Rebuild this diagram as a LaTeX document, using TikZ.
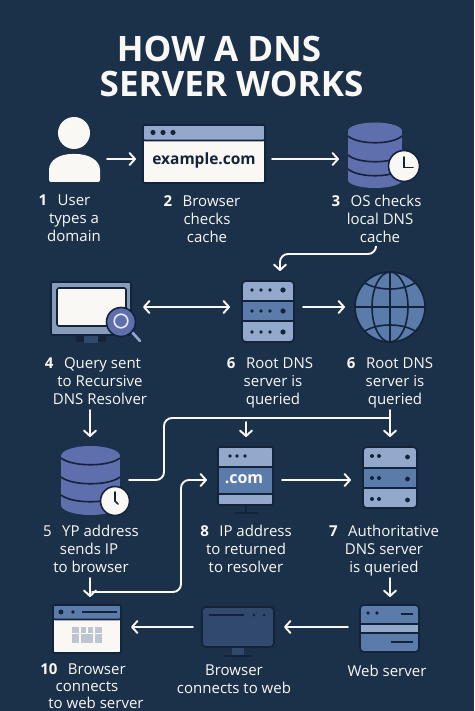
\documentclass[tikz,border=0pt]{standalone}
\usepackage{fontspec}
\setmainfont{Open Sans}
\usetikzlibrary{positioning, arrows.meta}
\definecolor{cfond}{HTML}{1B3149}
\definecolor{ctrait}{HTML}{12233A}
\definecolor{cblanc}{HTML}{FAF8F5}
\definecolor{cclair}{HTML}{93A9CB}
\definecolor{cmoyen}{HTML}{5B7BAA}
\definecolor{cbase}{HTML}{5F6FAD}
\definecolor{csombre}{HTML}{31496C}
\definecolor{cgrille}{HTML}{BCC5D0}
\tikzset{
  flow/.style={draw=cblanc, line width=1.9pt, line cap=round, rounded corners=8pt,
    -{Straight Barb[length=5.5pt, width=12pt, round]}},
  slot/.style={minimum height=8pt, inner sep=0pt, outer sep=0pt},
  lab/.style={text=cblanc, font=\fontsize{15}{18}\selectfont, align=center, inner sep=0pt, anchor=north},
  icon/.style={draw=ctrait, line width=1.6pt, rounded corners=2pt},
  band/.style={draw=ctrait, line width=1.6pt},
  clockhand/.style={draw=ctrait, line width=1.6pt, line cap=round},
}
\newcommand{\numb}[1]{\textbf{#1}\hspace{0.7em}}
\newcommand{\decal}[1]{\rule{#1}{0pt}}
\begin{document}
\begin{tikzpicture}[x=1pt, y=-1pt]
  \useasboundingbox (0,0) rectangle (474,711);
  \fill[cfond] (0,0) rectangle (474,711);

  % --- titre --------------------------------------------------------------
  \node[text=cblanc, font=\bfseries\fontsize{35}{35}\selectfont, align=center] (titre) at (231.5,66)
       {HOW A DNS\decal{25pt}\\SERVER WORKS};

  % --- reperes des icones, les fleches partent de leurs bords -------------
  \node[slot, minimum width=66pt] (user) at (74,159) {};
  \node[slot, minimum width=136pt] (browser) at (204,159) {};
  \node[slot, minimum width=72pt] (oscache) at (375,159) {};
  \node[slot, minimum width=104pt] (monitor) at (91,307) {};
  \node[slot, minimum width=73pt] (rootsrv) at (266.5,307) {};
  \node[slot, minimum width=90pt] (globe) at (390,307) {};
  \node[slot, minimum width=78pt] (ipdb) at (90,480) {};
  \node[slot, minimum width=75pt] (comsrv) at (244.5,480) {};
  \node[slot, minimum width=78pt] (authsrv) at (390,480) {};
  \node[slot, minimum width=88pt] (client) at (87,627) {};
  \node[slot, minimum width=91pt] (screen) at (238.5,627) {};
  \node[slot, minimum width=83pt] (websrv) at (389.5,627) {};

  % --- utilisateur ---------------------------------------------------------
  \fill[cblanc] (74,133) circle (16);
  \fill[cblanc, rounded corners=2pt] (49,182) -- (49,172)
    .. controls (49,160) and (60,154) .. (74,154)
    .. controls (88,154) and (100,160) .. (100,172) -- (100,182) -- cycle;

  % --- navigateur ----------------------------------------------------------
  \draw[icon, fill=cblanc] (143,125) rectangle (265,183);
  \draw[icon, fill=cclair] (143,125) rectangle (265,140.5);
  \foreach \px in {153,163,173} \fill[ctrait] (\px,132.5) circle (2.6);
  \node[text=ctrait, font=\fontsize{15.5}{18}\selectfont\bfseries] (domaine) at (204,160.5) {example.com};

  % --- base locale et horloge ---------------------------------------------
  \fill[cbase] (348,131) rectangle (402,180);
  \fill[cbase] (375,131) ellipse (27 and 8.5);
  \fill[cbase] (375,180) ellipse (27 and 8);
  \foreach \py in {136,155,169}
    \draw[band] (348,\py) .. controls (358,\py+9) and (392,\py+9) .. (402,\py);
  \draw[icon, fill=cblanc] (404,166) circle (15.5);
  \draw[clockhand] (404,157) -- (404,167.5) -- (413,167.5);

  % --- moniteur et loupe ---------------------------------------------------
  \fill[ctrait] (76,335) rectangle (106,342);
  \fill[csombre] (84,335) rectangle (98,343);
  \draw[icon, fill=cclair!92!black] (51,282) rectangle (131,335);
  \draw[icon, fill=cblanc] (57,288) rectangle (126,326);
  \draw[draw=cclair, line width=2.6pt, line cap=round] (131,331) -- (140,341);
  \draw[icon, fill=cbase] (121,322) circle (14.5);
  \draw[draw=cblanc!85!cclair, line width=1.6pt] (121,321) circle (6.8);

  % --- serveur racine -------------------------------------------------------
  \draw[icon, fill=cclair, rounded corners=4pt] (242,281) rectangle (294,342);
  \fill[cmoyen] (242.8,301) rectangle (293.2,321);
  \draw[band] (242,301) -- (294,301);
  \draw[band] (242,321) -- (294,321);
  \foreach \py in {290,311,332} {
    \foreach \px in {252,261,270} \fill[ctrait] (\px,\py) circle (1.9);
    \fill[ctrait] (283,\py) circle (2.6);
  }

  % --- globe ----------------------------------------------------------------
  \draw[band, fill=cmoyen] (390,307) circle (35);
  \draw[band] (390,307) ellipse (18 and 35);
  \draw[band] (390,272) -- (390,342);
  \draw[band] (355,307) -- (425,307);
  \draw[band] (365,283) .. controls (378,291) and (402,291) .. (415,283);
  \draw[band] (365,331) .. controls (378,323) and (402,323) .. (415,331);

  % --- base du resolveur ----------------------------------------------------
  \fill[cbase] (61,456) rectangle (120,505);
  \fill[cbase] (90.5,456) ellipse (29.5 and 10);
  \fill[cbase] (90.5,505) ellipse (29.5 and 10);
  \foreach \py in {458,477,495}
    \draw[band] (61,\py) .. controls (72,\py+9) and (109,\py+9) .. (120,\py);
  \draw[icon, fill=cblanc] (115,501) circle (14.5);
  \draw[clockhand] (115,492) -- (115,501) -- (118,504);

  % --- ecran .com ------------------------------------------------------------
  \draw[band] (246,505) -- (246,512);
  \draw[band] (235,513) -- (258,513);
  \draw[icon, fill=cclair] (218,447) rectangle (273,505);
  \fill[cmoyen] (219,467) rectangle (272,494);
  \draw[band] (218,467) -- (273,467);
  \draw[band] (218,494) -- (273,494);
  \foreach \px in {230,237,245} \fill[ctrait] (\px,456) circle (1.8);
  \node[text=cblanc, font=\bfseries\fontsize{16}{18}\selectfont] (ext) at (244,479.5) {.com};

  % --- serveur autoritaire ---------------------------------------------------
  \draw[icon, fill=cclair, rounded corners=4pt] (363,447) rectangle (417,508);
  \fill[cmoyen] (364,468) rectangle (416,488);
  \draw[band] (363,468) -- (417,468);
  \draw[band] (363,488) -- (417,488);
  \foreach \py in {456,478,499} {
    \foreach \px in {372,379} \fill[ctrait] (\px,\py) circle (2);
    \fill[ctrait] (407.5,\py+1) circle (2.4);
  }

  % --- fenetre du client -----------------------------------------------------
  \draw[icon, fill=cblanc] (53,605) rectangle (121,653);
  \draw[icon, fill=cmoyen] (53,605) rectangle (121,619.5);
  \fill[ctrait] (61,612) circle (2.5);
  \fill[ctrait] (73,612) circle (1.9);
  \draw[band] (82,612) -- (117,612);
  \fill[cgrille] (72,627) rectangle (102,643);
  \draw[cblanc, line width=1.4pt] (72,633.5) -- (102,633.5);
  \draw[cblanc, line width=1.4pt] (80,627) -- (80,643);
  \draw[cblanc, line width=1.4pt] (94,627) -- (94,643);
  \draw[cblanc, line width=1.4pt] (87,627) -- (87,633.5);

  % --- moniteur sombre --------------------------------------------------------
  \fill[csombre] (232,647) rectangle (244,655);
  \draw[band] (225,656) -- (251,656);
  \draw[icon, fill=csombre, rounded corners=4pt] (202,607) rectangle (274,647);
  \draw[draw=ctrait, line width=1.2pt] (209,615) -- (244,615);
  \foreach \px in {254,264} \fill[ctrait] (\px,615) circle (1.5);

  % --- serveur web -------------------------------------------------------------
  \draw[icon, fill=cmoyen, rounded corners=4pt] (360,605) rectangle (419,652);
  \fill[cclair] (361,625) rectangle (418,632);
  \draw[band] (360,624) -- (419,624);
  \draw[band] (360,633) -- (419,633);
  \foreach \px in {368,377} \fill[ctrait] (\px,613) circle (1.9);
  \draw[draw=ctrait, line width=2pt] (401,614) -- (413,614);
  \draw[draw=ctrait, line width=2pt] (391,642) -- (413,642);

  % --- textes ---------------------------------------------------------------
  \node[lab] (t1) at (74,195) {\numb{1}User\decal{19pt}\\types a\\domain};
  \node[lab] (t2) at (207,195) {\numb{2}Browser\decal{10pt}\\checks\\cache};
  \node[lab] (t3) at (380,195) {\numb{3}OS checks\decal{7pt}\\local DNS\\cache};
  \node[lab] (t4) at (100,357) {\numb{4}Query sent\decal{14pt}\\to Recursive\\DNS Resolver};
  \node[lab] (t5) at (273,357) {\numb{6}Root DNS\decal{6pt}\\server is\\queried};
  \node[lab] (t6) at (395,357) {\numb{6}Root DNS\decal{10pt}\\server is\\queried};
  \node[lab] (t7) at (91,525) {5\hspace{0.7em}ϒP address\\sends IP\decal{4pt}\\to browser};
  \node[lab] (t8) at (246,525) {\numb{8}IP address\\to returned\\to resolver};
  \node[lab] (t9) at (384,525) {\numb{7}Authoritative\\DNS server\\is queried};
  \node[lab, font=\fontsize{15}{17}\selectfont] (t10) at (87,663.5) {\numb{10}Browser\decal{8pt}\\connects\\\decal{18pt}to web server};
  \node[lab] (t11) at (234,665) {Browser\\connects to web};
  \node[lab] (t12) at (387,665) {Web server};

  % --- extremites libres des coudes ------------------------------------------
  \coordinate (c3) at (376,248);
  \coordinate (rootin) at (280,271);
  \coordinate (c4) at (90,410);
  \coordinate (dbin) at (90,437);
  \coordinate (comin) at (246,437);
  \coordinate (busin) at (246,422);
  \coordinate (c6) at (390,410);
  \coordinate (authin) at (390,437);
  \coordinate (c5) at (90,578);
  \coordinate (clin) at (90,597);
  \coordinate (c7) at (390,578);
  \coordinate (webin) at (390,597);

  % --- fleches ---------------------------------------------------------------
  \draw[flow] (user.east) -- (browser.west);
  \draw[flow] (browser.east) -- (oscache.west);
  \draw[flow] (c3) -- (376,254) -- (280,254) -- (rootin);
  \draw[flow, {Straight Barb[length=5.5pt, width=12pt, round]}-{Straight Barb[length=5.5pt, width=12pt, round]}] (monitor.east) -- (rootsrv.west);
  \draw[flow] (rootsrv.east) -- (globe.west);
  \draw[flow] (c4) -- (dbin);
  \draw[flow, -] (ipdb.east) -- (164,480) -- (164,418) -- (390,418);
  \draw[flow, -] (c6) -- (390,418);
  \draw[flow] (390,418) -- (authin);
  \draw[flow] (busin) -- (comin);
  \draw[flow] (92,592) -- (181,592) -- (181,480) -- (comsrv.west);
  \draw[flow] (comsrv.east) -- (authsrv.west);
  \draw[flow] (c5) -- (clin);
  \draw[flow] (c7) -- (webin);
  \draw[flow] (websrv.west) -- (screen.east);
  \draw[flow] (screen.west) -- (client.east);
\end{tikzpicture}
\end{document}
